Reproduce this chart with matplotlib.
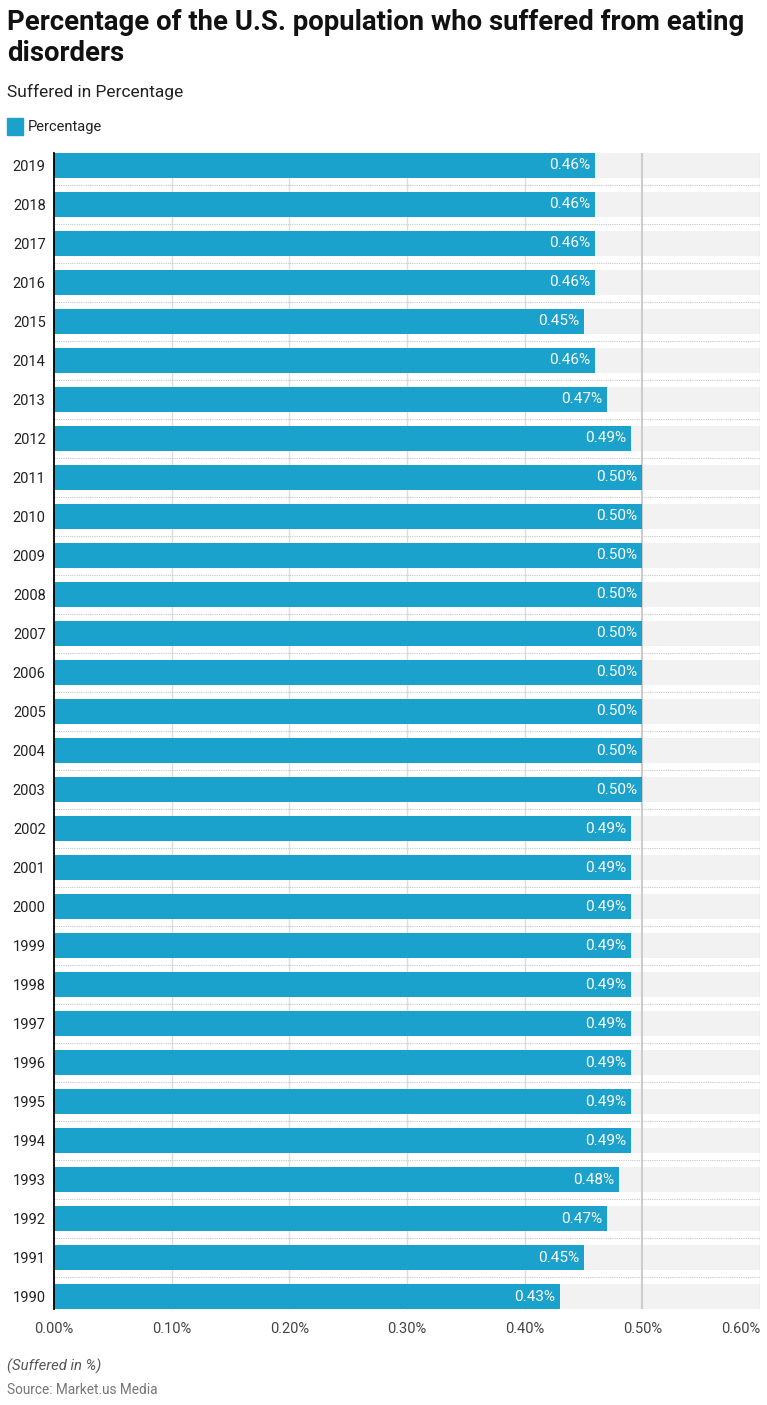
import matplotlib
matplotlib.use("Agg")
import matplotlib.pyplot as plt
import numpy as np

years = [str(y) for y in range(2019, 1989, -1)]
values = [0.46, 0.46, 0.46, 0.46, 0.45, 0.46, 0.47, 0.49, 0.50, 0.50,
          0.50, 0.50, 0.50, 0.50, 0.50, 0.50, 0.50, 0.49, 0.49, 0.49,
          0.49, 0.49, 0.49, 0.49, 0.49, 0.49, 0.48, 0.47, 0.45, 0.43]
xticks = [0.0, 0.1, 0.2, 0.3, 0.4, 0.5, 0.6]
xtick_labels = ["0.00%", "0.10%", "0.20%", "0.30%", "0.40%", "0.50%", "0.60%"]

plt.rcParams['font.family'] = ['Roboto', 'DejaVu Sans']
W, H = 767, 1405
fig = plt.figure(figsize=(W / 100, H / 100), dpi=100)

BAR = "#1aa1cc"
left = 54 / W
right = 760 / W
top = 1 - 145.5 / H
bottom = 1 - 1316.5 / H
ax = fig.add_axes([left, bottom, right - left, top - bottom])

n = len(years)
ypos = np.arange(n)
bh = 0.64
ax.barh(ypos, [0.6] * n, height=bh, color="#f2f2f2", zorder=0)
ax.barh(ypos, values, height=bh, color=BAR, zorder=3)
y_top = -bh / 2
y_bot = n - 1 + bh / 2
for x in xticks[1:]:
    if x == 0.5:
        ax.vlines(x, y_top, y_bot, color="#cccccc", lw=1.5, zorder=1)
    else:
        ax.vlines(x, y_top, y_bot, color="#dddddd", lw=1.0, zorder=1)
for i in range(n - 1):
    ax.axhline(i + 0.5, color="#c8c8c8", lw=0.8, ls=(0, (1, 1)), zorder=2)
for y, v in zip(ypos, values):
    ax.text(v - 0.004, y, f"{v:.2f}%", color="white", ha="right", va="center",
            fontsize=11, zorder=4)

ax.set_xlim(0, 0.6)
ax.set_ylim(n - 0.5, -0.5)
ax.set_yticks(ypos)
ax.set_yticklabels(years, fontsize=10.5, color="#222222")
ax.set_xticks(xticks)
ax.set_xticklabels(xtick_labels, fontsize=10.5, color="#444444")
ax.get_xticklabels()[-1].set_ha("right")
ax.tick_params(axis="both", length=0)
ax.tick_params(axis="y", pad=6)
ax.tick_params(axis="x", pad=4)
for s in ["top", "right", "bottom", "left"]:
    ax.spines[s].set_visible(False)
ax.plot([0, 0], [y_top, y_bot], color="black", lw=1.3, zorder=5, clip_on=False)

fig.text(7 / W, 1 - 9 / H, "Percentage of the U.S. population who suffered from eating\ndisorders",
         fontsize=19.8, fontweight="bold", va="top", ha="left", color="#111111", linespacing=1.2)
fig.text(7 / W, 1 - 92 / H, "Suffered in Percentage", fontsize=12.5, va="center", ha="left", color="#222222")
fig.patches.append(matplotlib.patches.Rectangle((7 / W, 1 - 134.5 / H), 16 / W, 16 / H,
                                                transform=fig.transFigure, color=BAR))
fig.text(28 / W, 1 - 126.5 / H, "Percentage", fontsize=10.5, va="center", ha="left", color="#222222")
fig.text(7 / W, 1 - 1366 / H, "(Suffered in %)", fontsize=10.7, style="italic", va="center", ha="left",
         color="#555555")
fig.text(7 / W, 1 - 1390 / H, "Source: Market.us Media", fontsize=9.8, va="center", ha="left",
         color="#777777")

fig.savefig("out.png", dpi=100)
